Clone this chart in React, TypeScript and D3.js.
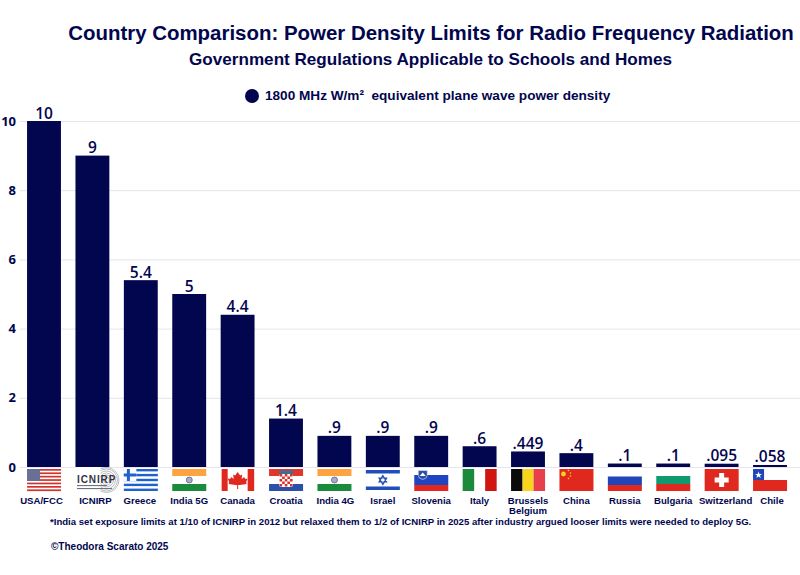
import React, { useEffect, useRef } from 'react';
import * as d3 from 'd3';

const categories = ['USA/FCC', 'ICNIRP', 'Greece', 'India 5G', 'Canada', 'Croatia', 'India 4G', 'Israel', 'Slovenia', 'Italy', 'Brussels Belgium', 'China', 'Russia', 'Bulgaria', 'Switzerland', 'Chile'];
const values = [10, 9, 5.4, 5, 4.4, 1.4, 0.9, 0.9, 0.9, 0.6, 0.449, 0.4, 0.1, 0.1, 0.095, 0.058];
const valueLabels = ['10', '9', '5.4', '5', '4.4', '1.4', '.9', '.9', '.9', '.6', '.449', '.4', '.1', '.1', '.095', '.058'];
const flags = ['usa', 'icnirp', 'greece', 'india', 'canada', 'croatia', 'india', 'israel', 'slovenia', 'italy', 'belgium', 'china', 'russia', 'bulgaria', 'swiss', 'chile'];
const yTicks = [0, 2, 4, 6, 8, 10];

const NAVY = '#02064e';
const W = 800;
const H = 575;
const SANS = '"Liberation Sans", Arial, sans-serif';
const NUM = '"Open Sans", "Noto Sans", sans-serif';

const x = d3.scaleBand<string>().domain(categories).range([19.8, 794.2]).paddingInner(0.3).paddingOuter(0.15);
const y = d3.scaleLinear().domain([0, 10]).range([467, 121]);

// some category labels sit a little off their bar in the original
const labelShift: Record<string, number> = { 'USA/FCC': -2.5, ICNIRP: 3, Greece: -1, 'India 4G': 1, Switzerland: 4, Chile: 2 };

// flags are drawn in a 34x22 box
const Flag: React.FC<{ name: string }> = ({ name }) => {
  switch (name) {
    case 'usa':
      return (
        <g>
          {d3.range(7).map((i) => (
            <rect key={i} y={i * 3.4} width={34} height={1.7} fill="#d0342c" />
          ))}
          <rect width={13} height={12} fill="#6a6f95" />
        </g>
      );
    case 'icnirp':
      return (
        <g>
          {[3, 5, 7, 9, 11, 12.5].map((r) => (
            <circle key={r} cx={31} cy={11} r={r} fill="none" stroke="#8b8f98" strokeWidth={0.6} />
          ))}
          <rect x={0} y={-2} width={25} height={24} fill="#fff" />
          <text x={1.5} y={14} fontFamily={SANS} fontSize={10} fontWeight={700} letterSpacing={0.9} fill="#33363f">ICNIRP</text>
          <rect x={1.5} y={16} width={30} height={1.1} fill="#6f717c" />
          <rect x={1.5} y={19} width={35} height={1.1} fill="#6f717c" />
        </g>
      );
    case 'greece':
      return (
        <g>
          {d3.range(5).map((i) => (
            <rect key={i} y={i * 4.9} width={34} height={2.4} fill="#1e62d0" />
          ))}
          <rect width={12.5} height={12} fill="#fff" />
          <rect y={4.5} width={12.5} height={3} fill="#1e62d0" />
          <rect x={3} width={3} height={12} fill="#1e62d0" />
        </g>
      );
    case 'india':
      return (
        <g>
          <rect width={34} height={7} fill="#fda33f" />
          <rect y={15} width={34} height={7} fill="#1c8a3c" />
          <circle cx={17} cy={11} r={3} fill="#a9adc6" stroke="#5b618e" strokeWidth={0.8} />
        </g>
      );
    case 'canada':
      return (
        <g>
          <rect x={1} width={6} height={22} fill="#e0281e" />
          <rect x={27} width={6.5} height={22} fill="#e0281e" />
          <path d="M17 3 L19.5 6.5 L21.5 5.5 L21 10 L23.5 8 L24.5 10 L27 9.5 L25.5 13 L26 15 L19 16 L17.5 16 L17.5 20 L16.5 20 L16.5 16 L15 16 L8 15 L8.5 13 L7 9.5 L9.5 10 L10.5 8 L13 10 L12.5 5.5 L14.5 6.5 Z" fill="#e0281e" />
        </g>
      );
    case 'croatia':
      return (
        <g>
          <rect width={34} height={7} fill="#e0362c" />
          <rect y={15} width={34} height={7} fill="#2a50a8" />
          <rect x={10} y={5} width={14} height={13} rx={2} fill="#fff" />
          {d3.range(5).flatMap((r) =>
            d3.range(5).map((c) =>
              (r + c) % 2 === 0 ? <rect key={`${r}-${c}`} x={10.5 + c * 2.6} y={5 + r * 2.5} width={2.6} height={2.5} fill="#d8302a" /> : null
            )
          )}
          <rect x={10} y={1.5} width={14} height={3.5} fill="#3f6f8f" />
        </g>
      );
    case 'israel':
      return (
        <g>
          <rect y={1} width={34} height={3.5} fill="#1f4fb8" />
          <rect y={17.5} width={34} height={3.5} fill="#1f4fb8" />
          <path d="M17 6.5 L20.8 13 L13.2 13 Z M17 15.5 L13.2 9 L20.8 9 Z" fill="none" stroke="#1f4fb8" strokeWidth={1.2} />
        </g>
      );
    case 'slovenia':
      return (
        <g>
          <rect y={6} width={34} height={10} fill="#1f45c0" />
          <rect y={16} width={34} height={6} fill="#e0281e" />
          <path d="M4 1.5 H13 V6.5 Q13 9.5 8.5 10.5 Q4 9.5 4 6.5 Z" fill="#2a50a8" stroke="#e8e8f0" strokeWidth={0.6} />
          <path d="M5.5 7 L8.5 3.5 L11.5 7 Z" fill="#fff" />
        </g>
      );
    case 'italy':
      return (
        <g>
          <rect width={11.5} height={22} fill="#1c8a3c" />
          <rect x={22.5} width={11.5} height={22} fill="#d01410" />
        </g>
      );
    case 'belgium':
      return (
        <g>
          <rect width={11.5} height={22} fill="#0a0a0a" />
          <rect x={11.5} width={11} height={22} fill="#f7d51d" />
          <rect x={22.5} width={11.5} height={22} fill="#e8404a" />
        </g>
      );
    case 'china':
      return (
        <g>
          <rect width={34} height={22} fill="#e0281e" />
          <circle cx={4} cy={5} r={2.4} fill="#f7d51d" />
          {[[9, 1.5], [11, 4], [11, 7], [9, 9.5]].map(([cx, cy]) => (
            <circle key={cy} cx={cx} cy={cy} r={0.8} fill="#f7d51d" />
          ))}
        </g>
      );
    case 'russia':
      return (
        <g>
          <rect y={7.5} width={34} height={8.5} fill="#1f45b8" />
          <rect y={16} width={34} height={6} fill="#e0281e" />
        </g>
      );
    case 'bulgaria':
      return (
        <g>
          <rect y={7} width={34} height={8} fill="#109a70" />
          <rect y={15} width={34} height={7} fill="#e0281e" />
        </g>
      );
    case 'swiss':
      return (
        <g>
          <rect width={34} height={22} fill="#e0281e" />
          <rect x={10} y={8.5} width={14} height={5} fill="#fff" />
          <rect x={14.5} y={4} width={5} height={14} fill="#fff" />
        </g>
      );
    case 'chile':
      return (
        <g>
          <rect width={11} height={11} fill="#1f45b8" />
          <path d="M5.5 2.5 L6.4 5 L9 5 L6.9 6.6 L7.7 9 L5.5 7.6 L3.3 9 L4.1 6.6 L2 5 L4.6 5 Z" fill="#fff" />
          <rect y={11} width={34} height={11} fill="#e0281e" />
        </g>
      );
    default:
      return null;
  }
};

export default function App() {
  const axisRef = useRef<SVGGElement>(null);

  useEffect(() => {
    if (!axisRef.current) return;
    const g = d3.select(axisRef.current);
    g.call(d3.axisLeft(y).tickValues(yTicks).tickSize(-(W - 20)).tickPadding(4).tickFormat(d3.format('d')) as any);
    g.select('.domain').remove();
    g.selectAll('.tick line').attr('stroke', '#e4e5ee').attr('stroke-width', 1);
    g.selectAll('.tick text')
      .attr('fill', NAVY)
      .attr('font-family', NUM)
      .attr('font-weight', 700)
      .attr('font-size', 13);
  }, []);

  return (
    <svg width={W} height={H} style={{ position: 'absolute', left: 0, top: 0, background: '#fff' }}>
      <text x={431} y={40} textAnchor="middle" fontFamily={SANS} fontSize={20.45} fontWeight={700} fill={NAVY}>
        Country Comparison: Power Density Limits for Radio Frequency Radiation
      </text>
      <text x={430.5} y={65} textAnchor="middle" fontFamily={SANS} fontSize={17.1} fontWeight={700} fill={NAVY}>
        Government Regulations Applicable to Schools and Homes
      </text>

      <circle cx={252} cy={96} r={7} fill={NAVY} />
      <text x={265} y={100} fontFamily={SANS} fontSize={13.6} fontWeight={700} fill={NAVY} xmlSpace="preserve">
        1800 MHz W/m²  equivalent plane wave power density
      </text>

      <g ref={axisRef} transform="translate(20,0)" />

      {categories.map((c, i) => {
        const bx = x(c)!;
        const cx = bx + x.bandwidth() / 2;
        const words = c === 'Brussels Belgium' ? c.split(' ') : [c];
        return (
          <g key={c}>
            <rect x={bx} y={y(values[i])} width={x.bandwidth()} height={y(0) - y(values[i])} fill={NAVY} />
            <text x={cx} y={y(values[i]) - 2.5} textAnchor="middle" fontFamily={NUM} fontSize={15.5} fontWeight={600} fill={NAVY}>
              {valueLabels[i]}
            </text>
            <g transform={`translate(${bx},469)`}>
              <Flag name={flags[i]} />
            </g>
            {words.map((w, k) => (
              <text key={w} x={cx + (labelShift[c] ?? 0)} y={504 + k * 9.5} textAnchor="middle" fontFamily={SANS} fontSize={9.6} fontWeight={700} fill={NAVY}>
                {w}
              </text>
            ))}
          </g>
        );
      })}

      <text x={50} y={525} fontFamily={SANS} fontSize={9.6} fontWeight={700} fill={NAVY}>
        *India set exposure limits at 1/10 of ICNIRP in 2012 but relaxed them to 1/2 of ICNIRP in 2025 after industry argued looser limits were needed to deploy 5G.
      </text>
      <text x={51} y={549.5} fontFamily={SANS} fontSize={10} fontWeight={700} fill={NAVY}>
        ©Theodora Scarato 2025
      </text>
    </svg>
  );
}
